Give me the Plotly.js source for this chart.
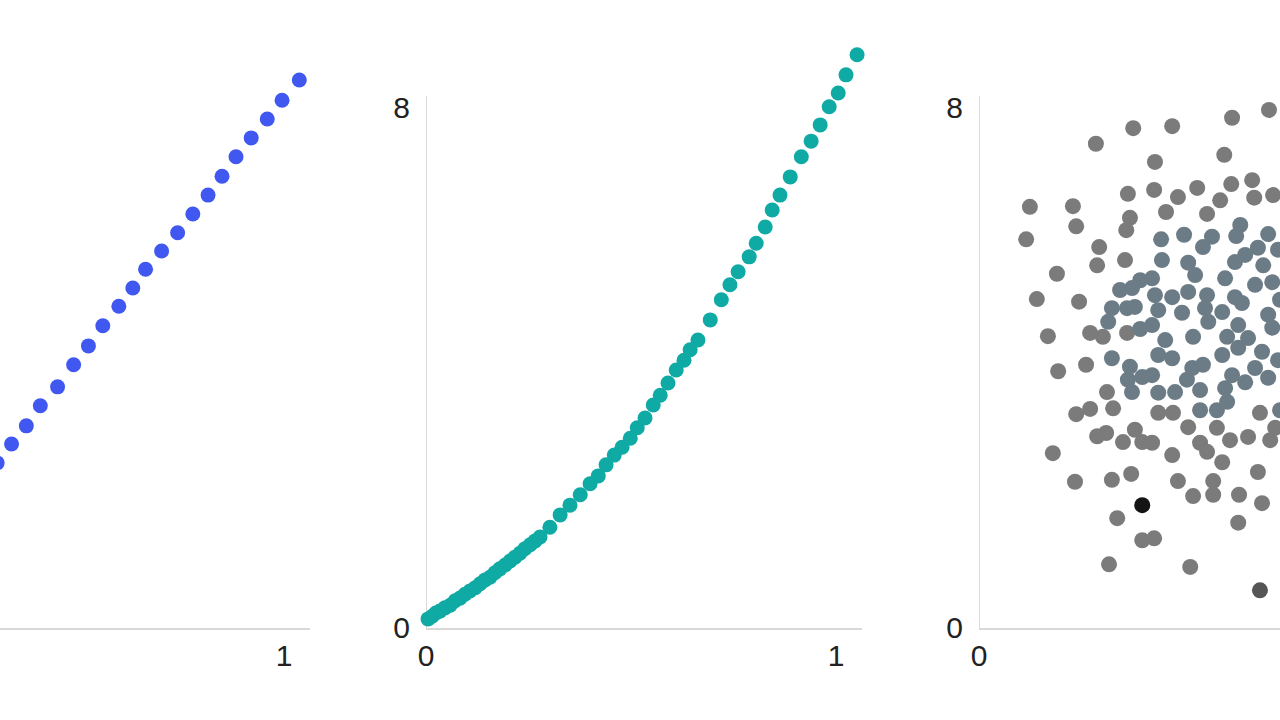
<!DOCTYPE html>
<html>
<head>
<meta charset="utf-8">
<script src="https://cdn.plot.ly/plotly-3.0.1.min.js"></script>
<style>
  html, body { margin: 0; padding: 0; width: 1280px; height: 720px; overflow: hidden; background: #ffffff; }
  #chart { position: absolute; left: -200px; top: 0; width: 1700px; height: 720px; }
</style>
</head>
<body>
<div id="chart"></div>
<script>
// ---- Data ----
const xTickVals = [0, 1];
const xTickText = ['0', '1'];
const yTickVals = [0, 8];
const yTickText = ['0', '8'];
const yAxisTop = 8.185;   // where the drawn y axis line stops

// Left panel: linear series
const linX = [0.302, 0.337, 0.373, 0.407, 0.449, 0.488, 0.524, 0.559, 0.598, 0.632, 0.663, 0.702, 0.741, 0.778, 0.815, 0.849, 0.883, 0.920, 0.959, 0.995, 1.037];
const linY = [2.54, 2.83, 3.11, 3.42, 3.71, 4.05, 4.34, 4.65, 4.95, 5.23, 5.52, 5.80, 6.08, 6.37, 6.66, 6.95, 7.25, 7.54, 7.83, 8.12, 8.43];

// Middle panel: curved series
const curveX = [0.005, 0.015, 0.024, 0.034, 0.046, 0.059, 0.071, 0.083, 0.095, 0.107, 0.120, 0.132, 0.144, 0.156, 0.168, 0.180, 0.193, 0.205, 0.217, 0.229, 0.241, 0.254, 0.266, 0.278, 0.302, 0.327, 0.351, 0.376, 0.400, 0.420, 0.439, 0.459, 0.478, 0.498, 0.515, 0.534, 0.554, 0.571, 0.590, 0.610, 0.629, 0.644, 0.663, 0.693, 0.720, 0.741, 0.761, 0.788, 0.805, 0.827, 0.844, 0.863, 0.888, 0.915, 0.939, 0.961, 0.983, 1.005, 1.024, 1.051];
const curveY = [0.14, 0.18, 0.23, 0.26, 0.31, 0.35, 0.42, 0.46, 0.52, 0.57, 0.62, 0.68, 0.74, 0.78, 0.85, 0.91, 0.97, 1.03, 1.09, 1.15, 1.22, 1.28, 1.34, 1.40, 1.55, 1.74, 1.89, 2.05, 2.22, 2.34, 2.51, 2.66, 2.78, 2.92, 3.08, 3.23, 3.43, 3.58, 3.77, 3.97, 4.12, 4.28, 4.43, 4.74, 5.05, 5.28, 5.48, 5.71, 5.92, 6.17, 6.43, 6.66, 6.94, 7.25, 7.49, 7.74, 8.02, 8.23, 8.51, 8.82];

// Right panel: scattered cloud, outer points
const outerX = [0.376, 0.285, 0.471, 0.617, 0.707, 0.598, 0.429, 0.363, 0.124, 0.229, 0.237, 0.368, 0.359, 0.115, 0.293, 0.288, 0.356, 0.190, 0.141, 0.244, 0.168, 0.271, 0.302, 0.427, 0.485, 0.532, 0.615, 0.666, 0.588, 0.671, 0.717, 0.456, 0.556, 0.193, 0.261, 0.237, 0.271, 0.180, 0.234, 0.324, 0.371, 0.337, 0.398, 0.317, 0.427, 0.515, 0.485, 0.571, 0.522, 0.571, 0.634, 0.690, 0.632, 0.680, 0.593, 0.471, 0.288, 0.310, 0.351, 0.380, 0.398, 0.422, 0.539, 0.556, 0.612, 0.656, 0.710, 0.685, 0.722, 0.327, 0.312, 0.361, 0.510, 0.580, 0.437, 0.473];
const outerY = [7.69, 7.45, 7.72, 7.85, 7.97, 7.28, 7.17, 6.68, 6.48, 6.49, 6.18, 6.31, 6.12, 5.98, 5.86, 5.58, 5.66, 5.45, 5.06, 5.02, 4.49, 4.54, 4.48, 6.74, 6.63, 6.77, 6.83, 6.89, 6.58, 6.62, 6.66, 6.40, 6.37, 3.95, 4.05, 3.29, 3.37, 2.69, 2.25, 2.28, 2.37, 1.69, 1.35, 0.98, 1.38, 0.94, 2.26, 2.26, 2.03, 2.05, 2.05, 1.92, 1.62, 2.40, 2.55, 2.66, 2.95, 3.00, 2.86, 3.05, 2.86, 2.85, 2.85, 2.71, 2.89, 2.94, 2.89, 3.31, 3.08, 3.38, 3.63, 4.54, 3.09, 3.08, 3.31, 3.31];

// Right panel: dense core points
const coreX = [0.444, 0.500, 0.568, 0.627, 0.705, 0.637, 0.546, 0.446, 0.510, 0.680, 0.624, 0.649, 0.729, 0.422, 0.527, 0.600, 0.693, 0.715, 0.429, 0.471, 0.510, 0.556, 0.624, 0.673, 0.437, 0.495, 0.551, 0.593, 0.641, 0.705, 0.422, 0.559, 0.632, 0.522, 0.605, 0.715, 0.454, 0.656, 0.344, 0.373, 0.393, 0.315, 0.324, 0.361, 0.380, 0.393, 0.324, 0.368, 0.363, 0.398, 0.373, 0.422, 0.437, 0.478, 0.507, 0.539, 0.539, 0.580, 0.605, 0.437, 0.471, 0.520, 0.546, 0.593, 0.617, 0.649, 0.673, 0.705, 0.600, 0.632, 0.690, 0.734, 0.734, 0.729];
const coreY = [5.98, 6.05, 6.02, 6.03, 6.06, 6.20, 5.86, 5.66, 5.62, 5.85, 5.63, 5.74, 5.82, 5.38, 5.43, 5.38, 5.58, 5.32, 5.12, 5.09, 5.17, 5.12, 5.09, 5.28, 4.89, 4.85, 4.92, 4.86, 5.00, 4.82, 4.66, 4.71, 4.66, 4.48, 4.48, 4.62, 4.43, 4.46, 5.20, 5.23, 5.35, 4.71, 4.92, 4.92, 4.94, 4.60, 4.15, 4.02, 3.82, 3.86, 3.63, 3.89, 3.62, 3.63, 3.82, 3.66, 3.35, 3.35, 3.48, 4.20, 4.15, 4.00, 4.05, 4.20, 3.89, 3.78, 4.00, 3.85, 3.69, 4.31, 4.25, 5.05, 3.35, 4.12];

// Right panel: highlighted points
const blackX = [0.398];
const blackY = [1.89];
const darkX = [0.685];
const darkY = [0.58];

// ---- Styling ----
const tickFont = { family: 'Liberation Sans, Arial, sans-serif', size: 30, color: '#222222' };
const lineColor = '#d9d9d9';
const yRange = [0, 9.5];
const xRange = [0, 1.063];

function xAxis(domain, anchor) {
  return {
    domain: domain, anchor: anchor, range: xRange,
    showgrid: false, zeroline: false, showline: true, linecolor: lineColor, linewidth: 2,
    tickmode: 'array', tickvals: xTickVals, ticktext: xTickText,
    ticks: '', ticklabelstandoff: 0, tickfont: tickFont, fixedrange: true
  };
}
function yAxis(anchor, showLabels) {
  return {
    domain: [0.12778, 0.98542], anchor: anchor, range: yRange,
    showgrid: false, zeroline: false, showline: false,
    tickmode: 'array', tickvals: yTickVals, ticktext: yTickText, showticklabels: showLabels,
    ticks: '', ticklabelstandoff: 15, tickfont: tickFont, fixedrange: true
  };
}
function yLine(xr, yr) {
  return { type: 'line', xref: xr, yref: yr, x0: 0, x1: 0, y0: 0, y1: yAxisTop,
           line: { color: lineColor, width: 2 }, layer: 'below' };
}

const traces = [
  { x: linX, y: linY, xaxis: 'x', yaxis: 'y', type: 'scatter', mode: 'markers', cliponaxis: false,
    marker: { size: 15, color: '#4158f0' }, hoverinfo: 'none' },
  { x: curveX, y: curveY, xaxis: 'x2', yaxis: 'y2', type: 'scatter', mode: 'markers', cliponaxis: false,
    marker: { size: 15, color: '#10aaa5' }, hoverinfo: 'none' },
  { x: outerX, y: outerY, xaxis: 'x3', yaxis: 'y3', type: 'scatter', mode: 'markers', cliponaxis: false,
    marker: { size: 16, color: '#7b7b7b' }, hoverinfo: 'none' },
  { x: coreX, y: coreY, xaxis: 'x3', yaxis: 'y3', type: 'scatter', mode: 'markers', cliponaxis: false,
    marker: { size: 16, color: '#6c7c86' }, hoverinfo: 'none' },
  { x: blackX, y: blackY, xaxis: 'x3', yaxis: 'y3', type: 'scatter', mode: 'markers', cliponaxis: false,
    marker: { size: 16, color: '#141414' }, hoverinfo: 'none' },
  { x: darkX, y: darkY, xaxis: 'x3', yaxis: 'y3', type: 'scatter', mode: 'markers', cliponaxis: false,
    marker: { size: 16, color: '#555555' }, hoverinfo: 'none' }
];

const layout = {
  width: 1700, height: 720,
  margin: { l: 0, r: 0, t: 0, b: 0, pad: 0 },
  paper_bgcolor: '#ffffff', plot_bgcolor: '#ffffff',
  showlegend: false,
  xaxis: xAxis([0.04294, 0.30000], 'y'),
  yaxis: yAxis('x', false),
  xaxis2: xAxis([0.36824, 0.62471], 'y2'),
  yaxis2: yAxis('x2', true),
  xaxis3: xAxis([0.69353, 0.95000], 'y3'),
  yaxis3: yAxis('x3', true),
  shapes: [yLine('x', 'y'), yLine('x2', 'y2'), yLine('x3', 'y3')]
};

Plotly.newPlot('chart', traces, layout, { staticPlot: true, displayModeBar: false });
</script>
</body>
</html>
